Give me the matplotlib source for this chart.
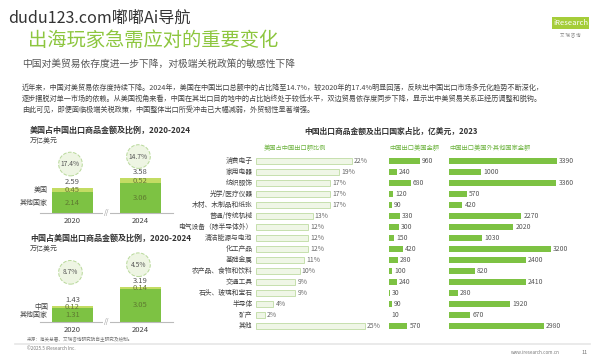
import matplotlib
matplotlib.use("Agg")
import matplotlib.pyplot as plt
from matplotlib.patches import FancyBboxPatch
from matplotlib.transforms import blended_transform_factory as btf

plt.rcParams['font.family'] = ['Noto Sans CJK SC', 'DejaVu Sans']

# ---------------- data ----------------
years = ['2020', '2024']
cn_exp_total = [2.59, 3.58]
cn_exp_to_us = [0.45, 0.52]
cn_exp_to_other = [2.14, 3.06]
us_share_pct = ['17.4%', '14.7%']

us_exp_total = [1.43, 3.19]
us_exp_to_cn = [0.12, 0.14]
us_exp_to_other = [1.31, 3.05]
cn_share_pct = ['8.7%', '4.5%']

categories = ['消费电子', '家用电器', '纺织服饰', '光学/医疗仪器', '木材、木制品和纸张',
              '普通/传统机械', '电气设备（除半导体外）', '清洁能源与电池', '化工产品', '基础金属',
              '农产品、食物和饮料', '交通工具', '石头、玻璃和宝石', '半导体', '矿产', '其他']
us_ratio = [22, 19, 17, 17, 17, 13, 12, 12, 12, 11, 10, 9, 9, 4, 2, 25]
to_us = [960, 240, 680, 120, 90, 330, 300, 150, 420, 280, 100, 240, 30, 90, 10, 570]
to_other = [3390, 1000, 3360, 570, 420, 2270, 2020, 1030, 3200, 2400, 820, 2410, 280, 1920, 670, 2980]

GREEN = '#7dc243'
LIME = '#c3dc63'
TXT = '#444444'

W, H = 600, 360
fig = plt.figure(figsize=(6, 3.6), dpi=100)
fig.patch.set_facecolor('white')

ov = fig.add_axes([0, 0, 1, 1], zorder=0)
ov.set_xlim(0, W)
ov.set_ylim(H, 0)
ov.axis('off')


def px_axes(x0, y0, x1, y1, z=2):
    a = fig.add_axes([x0 / W, 1 - y1 / H, (x1 - x0) / W, (y1 - y0) / H], zorder=z)
    a.patch.set_alpha(0)
    return a


# ---------------- header ----------------
ov.text(28, 40, '出海玩家急需应对的重要变化', fontsize=13.9, color='#8dc63f', va='center', ha='left')
ov.text(8, 18, 'dudu123.com嘟嘟Ai导航', fontsize=11.6, color='#333333', va='center', ha='left', zorder=5)
ov.text(22, 64, '中国对美贸易依存度进一步下降，对极端关税政策的敏感性下降', fontsize=7, color='#555555',
        va='center', ha='left')
para = ['近年来，中国对美贸易依存度持续下降。2024年，美国在中国出口总额中的占比降至14.7%，较2020年的17.4%明显回落，反映出中国出口市场多元化趋势不断深化，',
        '逐步摆脱对单一市场的依赖。从美国视角来看，中国在其出口目的地中的占比始终处于较低水平，双边贸易依存度同步下降，显示出中美贸易关系正经历调整和脱钩。',
        '由此可见，即便面临极端关税政策，中国整体出口所受冲击已大幅减弱，外贸韧性显著增强。']
for k, line in enumerate(para):
    ov.text(22, 88 + 11 * k, line, fontsize=5.15, color=TXT, va='center', ha='left')

# logo
ov.add_patch(FancyBboxPatch((552, 17), 37, 12, boxstyle='square,pad=0', fc='#a5cd39', ec='none'))
ov.text(570.5, 23, 'iResearch', fontsize=5.5, color='white', ha='center', va='center')
ov.text(570.5, 35, '艾 瑞 咨 询', fontsize=3.2, color='#888888', ha='center', va='center')


# ---------------- left stacked bar charts ----------------
def stacked(y_base, y_top, title, total, part, other, pct, part_label):
    ov.text(30, y_top - 13, title, fontsize=5.8, fontweight='bold', color='#333333', va='center')
    ov.text(30, y_top - 2, '万亿美元', fontsize=5, color=TXT, va='center')
    ax = px_axes(40, y_top + 2, 173, y_base)
    hpx = y_base - (y_top + 2)
    ax.set_ylim(0, max(total) * hpx / 35.0)
    ax.set_xlim(-0.478, 1.478)
    x = [0, 1]
    ax.bar(x, other, width=0.6, color=GREEN, zorder=2)
    ax.bar(x, part, bottom=other, width=0.6, color=LIME, zorder=2)
    for s in ['top', 'right', 'left']:
        ax.spines[s].set_visible(False)
    ax.spines['bottom'].set_color('#bbbbbb')
    ax.spines['bottom'].set_linewidth(0.8)
    ax.set_yticks([])
    ax.set_xticks(x)
    ax.set_xticklabels(years, fontsize=5.5, color=TXT)
    ax.tick_params(axis='x', length=0, pad=3)
    ax.text(0.5, 0, '//', fontsize=5, color='#999999', ha='center', va='center',
            bbox=dict(fc='white', ec='none', pad=0.5), zorder=3)
    for i in range(2):
        ax.annotate(f'{total[i]:.2f}', (x[i], total[i]), xytext=(0, 1.5), textcoords='offset points',
                    ha='center', va='bottom', fontsize=5.5, color='#555555')
        ax.text(x[i], other[i] + part[i] / 2, f'{part[i]:.2f}', ha='center', va='center',
                fontsize=5.5, color='#6a7a3a', zorder=3)
        ax.text(x[i], other[i] / 2, f'{other[i]:.2f}', ha='center', va='center',
                fontsize=5.5, color='#5e7a30', zorder=3)
        cy = 0.72 if i == 0 else 0.83
        ax.scatter([x[i] - 0.03], [cy], s=290, transform=btf(ax.transData, ax.transAxes),
                   facecolor='#eef5e3', edgecolor='#b8d99a', linewidths=0.7, linestyle='--',
                   clip_on=False, zorder=3)
        ax.text(x[i] - 0.03, cy, pct[i], transform=btf(ax.transData, ax.transAxes),
                ha='center', va='center', fontsize=4.8, color='#555555', zorder=4)
    ax.annotate(part_label, (-0.3, other[0] + part[0] / 2), xytext=(-3, 0), textcoords='offset points',
                ha='right', va='center', fontsize=5, color=TXT, annotation_clip=False)
    ax.annotate('其他国家', (-0.3, other[0] / 2), xytext=(-3, 0), textcoords='offset points',
                ha='right', va='center', fontsize=5, color=TXT, annotation_clip=False)
    return ax


stacked(213, 143, '美国占中国出口商品金额及比例，2020-2024', cn_exp_total, cn_exp_to_us, cn_exp_to_other,
        us_share_pct, '美国')
stacked(322, 251, '中国占美国出口商品金额及比例，2020-2024', us_exp_total, us_exp_to_cn, us_exp_to_other,
        cn_share_pct, '中国')

# ---------------- right bar charts ----------------
ov.text(304, 131, '中国出口商品金额及出口国家占比，亿美元，2023', fontsize=5.6, fontweight='bold',
        color='#333333', va='center')
ov.text(295, 148, '美国占中国出口额比例', fontsize=4.5, color='#6db33f', ha='center', va='center')
ov.text(389, 148, '中国出口美国金额', fontsize=4.5, color='#6db33f', ha='left', va='center')
ov.text(449, 148, '中国出口美国外其他国家金额', fontsize=4.5, color='#6db33f', ha='left', va='center')

n = len(categories)
ytop, ybot = 155.5, 155.5 + 11 * n
yy = list(range(n))

ax_p = px_axes(256, ytop, 387, ybot)
ax_p.set_xlim(0, 131 / 4.36)
ax_p.set_ylim(n - 0.5, -0.5)
ax_p.barh(yy, us_ratio, height=0.55, color='#eff6e6', edgecolor='#bfdca3', linewidth=0.6)
ax_p.axis('off')
for i, v in enumerate(us_ratio):
    ax_p.annotate(f'{v}%', (v, i), xytext=(1.5, 0), textcoords='offset points', ha='left', va='center',
                  fontsize=4.9, color='#666666')
    ax_p.annotate(categories[i], (0, i), xytext=(-2.5, 0), textcoords='offset points', ha='right',
                  va='center', fontsize=4.9, color=TXT, annotation_clip=False)

ax_u = px_axes(389, ytop, 447, ybot)
ax_u.set_xlim(0, 58 / 0.0323)
ax_u.set_ylim(n - 0.5, -0.5)
ax_u.barh(yy, to_us, height=0.52, color=GREEN)
ax_u.axis('off')
for i, v in enumerate(to_us):
    ax_u.annotate(f'{v}', (v, i), xytext=(1.5, 0), textcoords='offset points', ha='left', va='center',
                  fontsize=4.9, color='#555555', annotation_clip=False)

ax_o = px_axes(449, ytop, 592, ybot)
ax_o.set_xlim(0, 143 / 0.0319)
ax_o.set_ylim(n - 0.5, -0.5)
ax_o.barh(yy, to_other, height=0.52, color=GREEN)
ax_o.axis('off')
for i, v in enumerate(to_other):
    ax_o.annotate(f'{v}', (v, i), xytext=(1.5, 0), textcoords='offset points', ha='left', va='center',
                  fontsize=4.9, color='#555555', annotation_clip=False)

# ---------------- footer ----------------
ov.text(27, 339.5, '来源：海关总署、艾瑞咨询研究院自主研究及绘制。', fontsize=3.3, color='#777777', va='center')
ov.plot([15, 590], [343.5, 343.5], color='#e6e6e6', lw=1.2)
ov.text(27, 348, '©2025.5 iResearch Inc.', fontsize=3.3, color='#777777', va='center')
ov.text(560, 352, 'www.iresearch.com.cn', fontsize=3.3, color='#777777', va='center', ha='right')
ov.text(585, 352, '11', fontsize=4, color='#777777', va='center', ha='center')

fig.savefig('out.png', dpi=100)
